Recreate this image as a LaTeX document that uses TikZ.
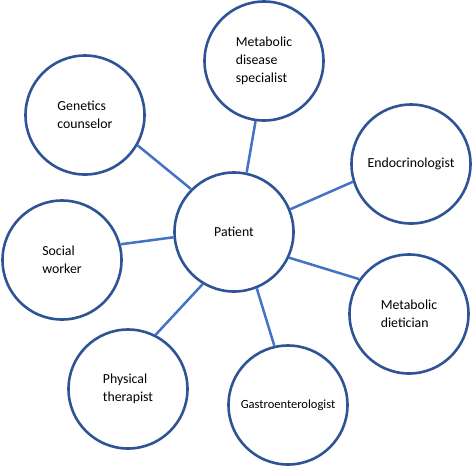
\documentclass[tikz,border=0pt]{standalone}
\usepackage{fontspec}
\setmainfont{Carlito}
\usepackage{xcolor}
\usepackage{tikz}
\usetikzlibrary{positioning}

\definecolor{ringblue}{HTML}{2F5496}
\definecolor{spokeblue}{HTML}{4472C4}

\begin{document}
\begin{tikzpicture}[
        x=1pt, y=-1pt,
        role/.style={circle, draw=ringblue, line width=2.6pt, fill=white,
                     minimum size=119pt, inner sep=0pt, align=left,
                     font=\fontsize{13.8}{18}\selectfont},
        spoke/.style={draw=spokeblue, line width=2.5pt},
    ]
        \useasboundingbox (0,0) rectangle (474,467);

        % Centre
        \node[role] (pat) at (234,232) {Patient};

        % Outer circles
        \node[role] (mds) at (264,61) {Metabolic\\disease\\specialist};
        \node[role] (gen) at (85,115) {Genetics\\counselor};
        \node[role] (endo) at (411,164) {Endocrinologist};
        \node[role] (soc) at (62,260) {Social\\worker};
        \node[role] (diet) at (409,314) {Metabolic\\dietician};
        \node[role] (phys) at (128,389) {Physical\\therapist};
        \node[role, font=\fontsize{12.5}{16}\selectfont] (gast) at (288,405) {Gastroenterologist};

        % Spokes
        \draw[spoke] (pat.78) -- (mds.262);
        \draw[spoke] (pat.135) -- (gen.-30);
        \draw[spoke] (pat.22) -- (endo.197);
        \draw[spoke] (pat.185) -- (soc.15);
        \draw[spoke] (pat.-25) -- (diet.145);
        \draw[spoke] (pat.239) -- (phys.63);
        \draw[spoke] (pat.-68) -- (gast.103);
    \end{tikzpicture}
\end{document}
